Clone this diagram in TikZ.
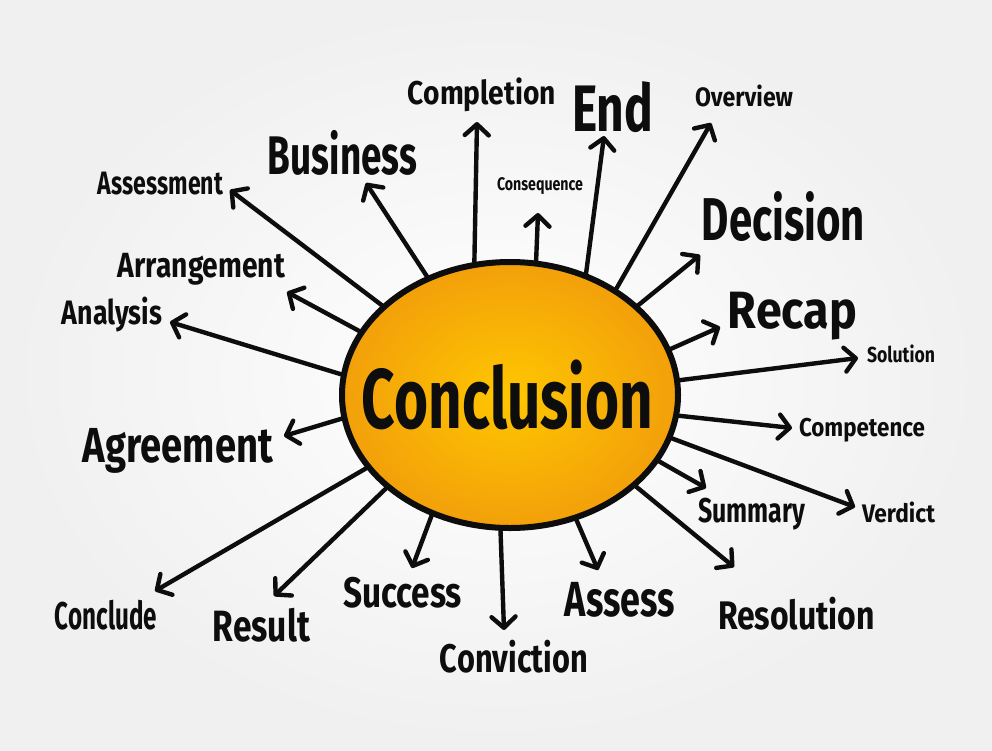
\documentclass[tikz,border=0pt]{standalone}
\usepackage{fontspec}
\setmainfont{Fira Sans}
\usetikzlibrary{arrows.meta,shapes.geometric}
\definecolor{ink}{HTML}{0D0D0D}
\definecolor{hubin}{HTML}{FFC600}
\definecolor{hubout}{HTML}{F2A00A}
\tikzset{
  lbl/.style={inner sep=0pt, outer sep=0pt, text=ink, font=\bfseries},
  arr/.style={draw=ink, line width=4.4pt, line cap=round, line join=round,
    -{Straight Barb[length=11pt,width=24pt,round]}},
  hub/.style={ellipse, draw=ink, line width=6pt, inner color=hubin, outer color=hubout,
    minimum width=336pt, minimum height=266pt, inner sep=0pt}
}
\newcommand{\wrd}[3]{\resizebox*{#1pt}{#2pt}{#3}}
\begin{document}
\begin{tikzpicture}[x=1pt,y=-1pt]
\useasboundingbox (0,0) rectangle (992,750);
\shade[inner color=white, outer color=black!6] (0,0) rectangle (992,750);
\node[hub] (C) at (510,395) {};
\node[lbl] (tC) at (507.5,395) {\wrd{291}{70}{Conclusion}};
% labels
\node[lbl] (Lassessment) at (160.5,183.5) {\wrd{125}{23}{Assessment}};
\node[lbl] (Lbusiness) at (342.5,152.5) {\wrd{149}{45}{Business}};
\node[lbl] (Lcompletion) at (482,95) {\wrd{148}{34}{Completion}};
\node[lbl] (Lconsequence) at (540,186.5) {\wrd{86}{17}{Consequence}};
\node[lbl] (Lend) at (612.5,107.5) {\wrd{81}{51}{End}};
\node[lbl] (Loverview) at (744,96) {\wrd{98}{22}{Overview}};
\node[lbl] (Ldecision) at (783.5,217) {\wrd{163}{50}{Decision}};
\node[lbl] (Lrecap) at (792.5,316) {\wrd{129}{48}{Recap}};
\node[lbl] (Lsolution) at (901,354) {\wrd{68}{18}{Solution}};
\node[lbl] (Lcompetence) at (862,430) {\wrd{126}{24}{Competence}};
\node[lbl] (Lverdict) at (898.5,512.5) {\wrd{73}{21}{Verdict}};
\node[lbl] (Lsummary) at (751.5,514) {\wrd{107}{32}{Summary}};
\node[lbl] (Lresolution) at (796.5,613.5) {\wrd{157}{33}{Resolution}};
\node[lbl] (Lassess) at (620,599.5) {\wrd{110}{35}{Assess}};
\node[lbl] (Lconviction) at (514,656.5) {\wrd{148}{33}{Conviction}};
\node[lbl] (Lsuccess) at (402.5,592.5) {\wrd{119}{31}{Success}};
\node[lbl] (Lresult) at (261.5,625) {\wrd{97}{34}{Result}};
\node[lbl] (Lconclude) at (106,615) {\wrd{102}{30}{Conclude}};
\node[lbl] (Lagreement) at (178,450.5) {\wrd{190}{45}{Agreement}};
\node[lbl] (Lanalysis) at (112,314.5) {\wrd{100}{35}{Analysis}};
\node[lbl] (Larrangement) at (201.5,269) {\wrd{167}{32}{Arrangement}};
% arrow tips
\coordinate (Tassessment) at (230,190);
\coordinate (Tbusiness) at (366,183);
\coordinate (Tcompletion) at (477,122);
\coordinate (Tconsequence) at (538,213);
\coordinate (Tend) at (604,136);
\coordinate (Toverview) at (711,123);
\coordinate (Tdecision) at (700,255);
\coordinate (Trecap) at (720,327);
\coordinate (Tsolution) at (858,358);
\coordinate (Tcompetence) at (792,428);
\coordinate (Tverdict) at (855,507);
\coordinate (Tsummary) at (706,488);
\coordinate (Tresolution) at (734,567);
\coordinate (Tassess) at (598,570);
\coordinate (Tconviction) at (504,630);
\coordinate (Tsuccess) at (412,568);
\coordinate (Tresult) at (274,596);
\coordinate (Tconclude) at (155,591);
\coordinate (Tagreement) at (284,436);
\coordinate (Tanalysis) at (170,322);
\coordinate (Tarrangement) at (287,292);
% connectors
\draw[arr] (C.145) -- (Tassessment);
\draw[arr] (C.125) -- (Tbusiness);
\draw[arr] (C.105) -- (Tcompletion);
\draw[arr] (C.79) -- (Tconsequence);
\draw[arr] (C.58) -- (Tend);
\draw[arr] (C.45.5) -- (Toverview);
\draw[arr] (C.35.5) -- (Tdecision);
\draw[arr] (C.16) -- (Trecap);
\draw[arr] (C.5) -- (Tsolution);
\draw[arr] (C.-7) -- (Tcompetence);
\draw[arr] (C.-15) -- (Tverdict);
\draw[arr] (C.-24.6) -- (Tsummary);
\draw[arr] (C.-36.4) -- (Tresolution);
\draw[arr] (C.-62) -- (Tassess);
\draw[arr] (C.-94.3) -- (Tconviction);
\draw[arr] (C.-123) -- (Tsuccess);
\draw[arr] (C.-143) -- (Tresult);
\draw[arr] (C.-153) -- (Tconclude);
\draw[arr] (C.-172) -- (Tagreement);
\draw[arr] (C.173) -- (Tanalysis);
\draw[arr] (C.157.5) -- (Tarrangement);
\end{tikzpicture}
\end{document}
